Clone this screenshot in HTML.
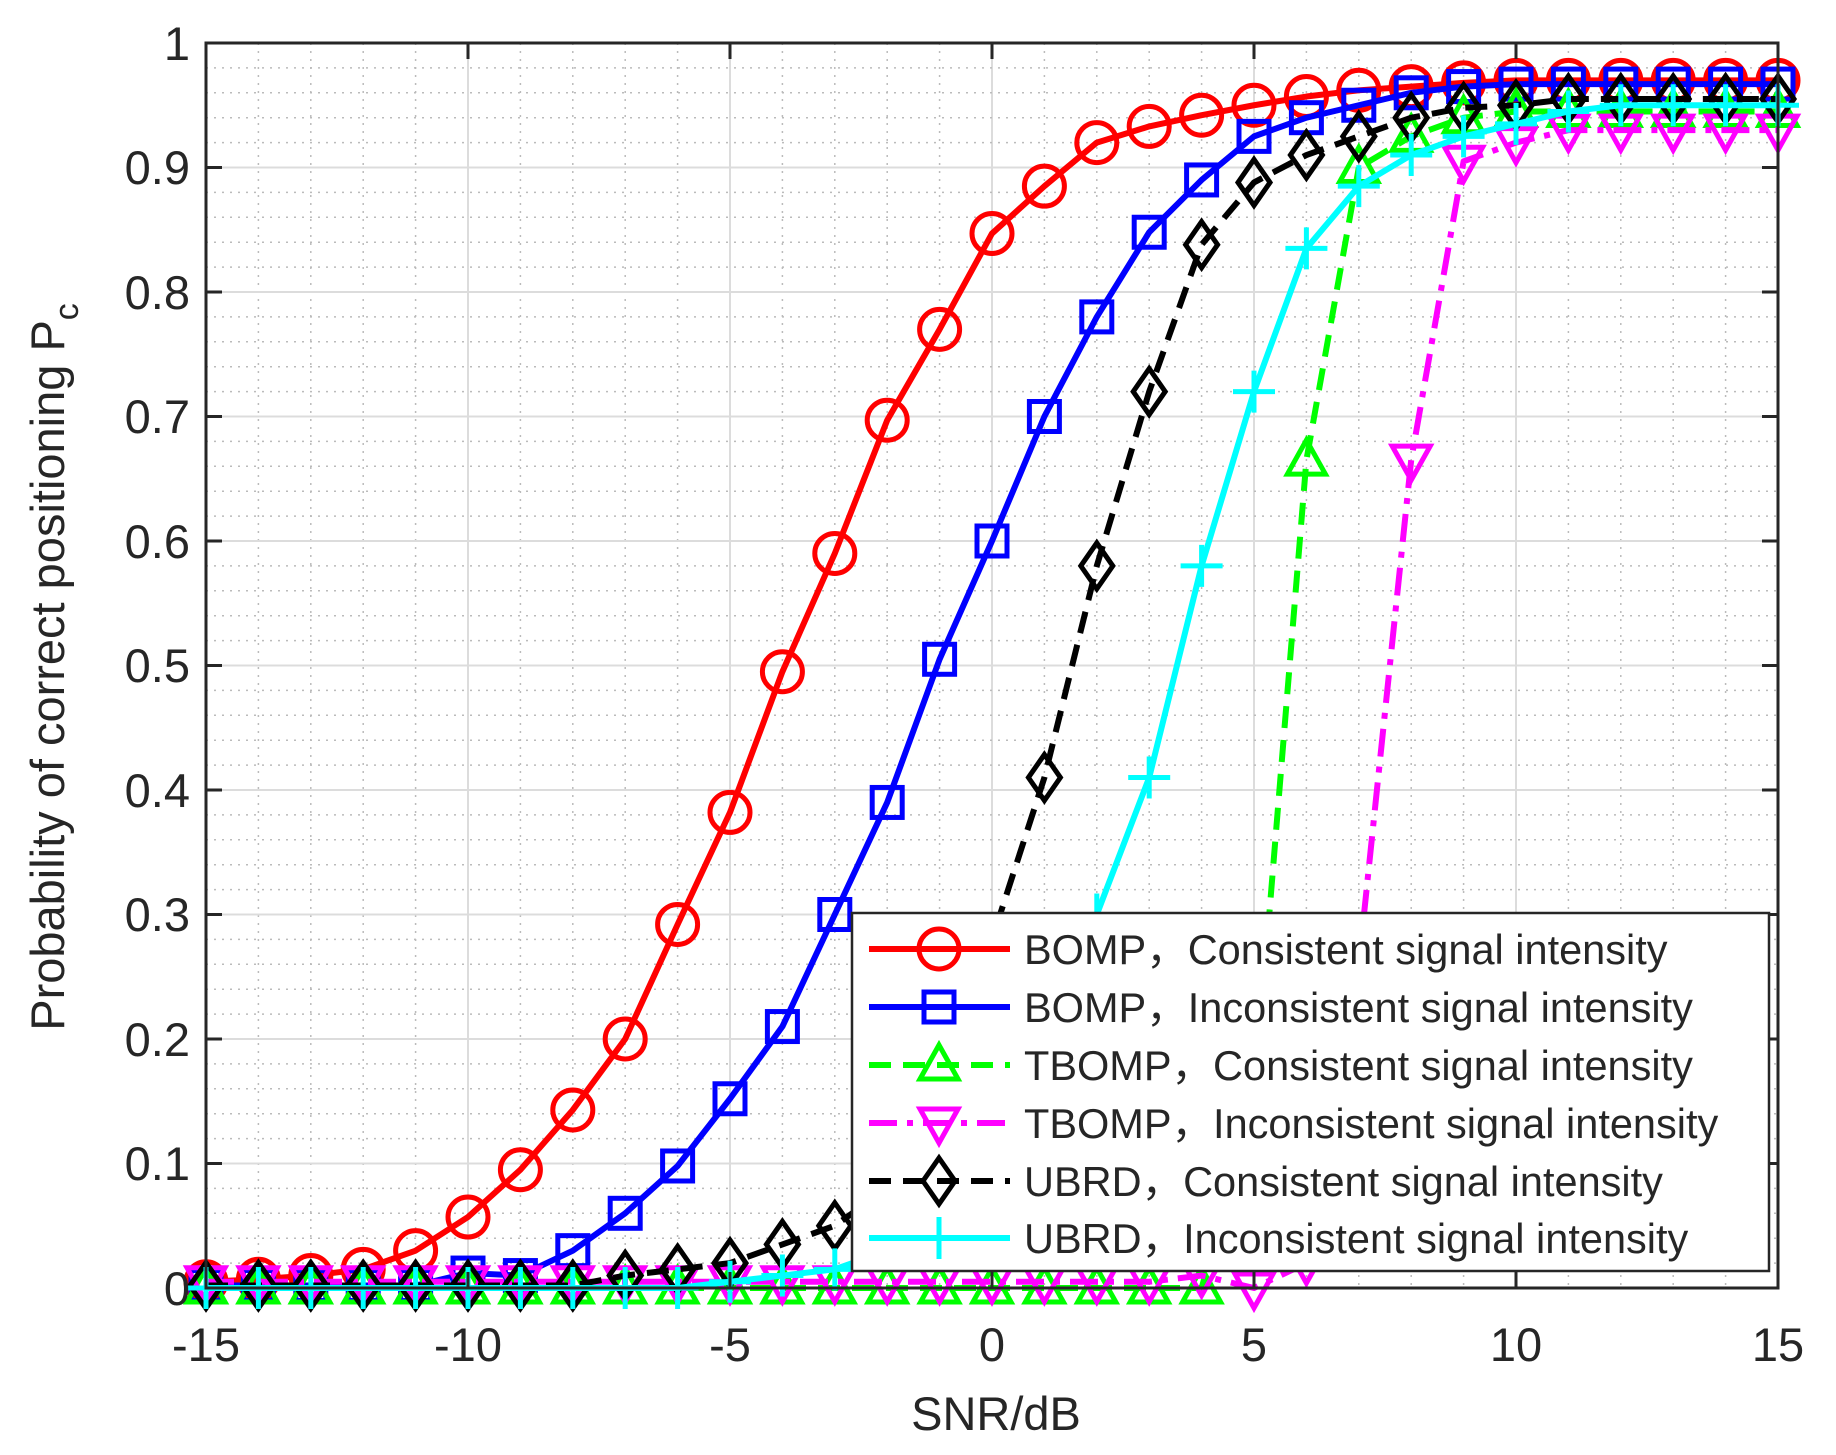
<!DOCTYPE html>
<html><head><meta charset="utf-8"><style>
html,body{margin:0;padding:0;background:#fff}
svg{display:block}
text{font-family:"Liberation Sans",Arial,sans-serif;fill:#262626}
</style></head><body>
<svg id="s" width="1836" height="1455" viewBox="0 0 1836 1455" xmlns="http://www.w3.org/2000/svg">
<rect width="1836" height="1455" fill="#fff"/>
<g id="grid"></g>
<g id="data"></g>
<rect x="206" y="43" width="1572" height="1245" fill="none" stroke="#262626" stroke-width="3"/>
<g id="ticks"></g>
<g font-size="47" text-anchor="end" id="yl">
<text x="190" y="60">1</text>
<text x="190" y="184">0.9</text>
<text x="190" y="309">0.8</text>
<text x="190" y="433">0.7</text>
<text x="190" y="558">0.6</text>
<text x="190" y="682">0.5</text>
<text x="190" y="807">0.4</text>
<text x="190" y="931">0.3</text>
<text x="190" y="1056">0.2</text>
<text x="190" y="1180">0.1</text>
<text x="190" y="1305">0</text>
</g>
<g font-size="47" text-anchor="middle">
<text x="206" y="1361">-15</text>
<text x="468" y="1361">-10</text>
<text x="730" y="1361">-5</text>
<text x="992" y="1361">0</text>
<text x="1254" y="1361">5</text>
<text x="1516" y="1361">10</text>
<text x="1778" y="1361">15</text>
<text x="996" y="1430">SNR/dB</text>
</g>
<text font-size="47" text-anchor="middle" transform="translate(64,667) rotate(-90)">Probability of correct positioning P<tspan font-size="34" dy="14">c</tspan></text>
<rect x="852" y="913" width="917" height="358" fill="#fff" stroke="#262626" stroke-width="2.5"/>
<g id="leg"></g>
<g font-size="41.5">
<text x="1024" y="964">BOMP，Consistent signal intensity</text>
<text x="1024" y="1022">BOMP，Inconsistent signal intensity</text>
<text x="1024" y="1080">TBOMP，Consistent signal intensity</text>
<text x="1024" y="1138">TBOMP，Inconsistent signal intensity</text>
<text x="1024" y="1196">UBRD，Consistent signal intensity</text>
<text x="1024" y="1253">UBRD，Inconsistent signal intensity</text>
</g>
</svg>
<script>
const NS="http://www.w3.org/2000/svg";
const X0=206,X1=1778,Y0=1288,YT=43;
const X=x=>X0+(x+15)*(X1-X0)/30, Y=v=>Y0-v*(Y0-YT);
function el(p,t,a){const e=document.createElementNS(NS,t);for(const k in a)e.setAttribute(k,a[k]);p.appendChild(e);return e;}
const G=document.getElementById('grid'),T=document.getElementById('ticks'),D=document.getElementById('data'),L=document.getElementById('leg');
for(let x=-15;x<=15;x++){const major=x%5==0;el(G,'line',{x1:X(x),x2:X(x),y1:YT,y2:Y0,stroke:major?'#dcdcdc':'#bbb','stroke-width':major?2:1.5,'stroke-dasharray':major?'':'2 6'});
if(major){el(T,'line',{x1:X(x),x2:X(x),y1:Y0,y2:Y0-16,stroke:'#262626','stroke-width':3});el(T,'line',{x1:X(x),x2:X(x),y1:YT,y2:YT+16,stroke:'#262626','stroke-width':3});}}
for(let i=0;i<=50;i++){const v=i*0.02,major=i%5==0;el(G,'line',{x1:X0,x2:X1,y1:Y(v),y2:Y(v),stroke:major?'#dcdcdc':'#bbb','stroke-width':major?2:1.5,'stroke-dasharray':major?'':'2 6'});
if(major){el(T,'line',{x1:X0,x2:X0+16,y1:Y(v),y2:Y(v),stroke:'#262626','stroke-width':3});el(T,'line',{x1:X1-16,x2:X1,y1:Y(v),y2:Y(v),stroke:'#262626','stroke-width':3});}}
const xs=[];for(let x=-15;x<=15;x++)xs.push(x);
const S=[
{c:'#ff0000',d:'',m:'o',v:[.005,.007,.01,.015,.03,.057,.095,.143,.2,.292,.382,.495,.59,.697,.77,.847,.885,.92,.933,.942,.95,.957,.962,.965,.968,.97,.97,.97,.97,.97,.97]},
{c:'#0000ff',d:'',m:'s',v:[.002,.002,.002,.002,.002,.012,.01,.03,.06,.098,.152,.21,.3,.39,.505,.6,.7,.78,.848,.89,.925,.94,.95,.96,.965,.967,.967,.967,.967,.967,.967]},
{c:'#00ff00',d:'22 12',m:'^',v:[0,0,0,0,0,0,0,0,0,0,0,0,0,0,0,0,0,0,0,0,.15,.665,.9,.925,.94,.945,.945,.945,.945,.945,.945]},
{c:'#ff00ff',d:'28 10 6 10',m:'v',v:[.005,.005,.005,.005,.005,.005,.005,.005,.005,.005,.005,.005,.005,.005,.005,.005,.005,.005,.005,.01,0,.02,.26,.665,.905,.92,.93,.93,.93,.93,.93]},
{c:'#000000',d:'22 12',m:'d',v:[.002,.002,.002,.002,.002,.002,.002,.002,.01,.015,.02,.035,.05,.08,.15,.28,.41,.58,.72,.838,.888,.91,.925,.94,.948,.95,.955,.955,.955,.955,.955]},
{c:'#00ffff',d:'',m:'+',v:[0,0,0,0,0,0,0,0,0,0,.005,.01,.015,.03,.06,.12,.2,.3,.41,.58,.72,.835,.885,.91,.925,.935,.945,.95,.95,.95,.95]}];
function mk(p,m,x,y,c){const a={fill:'none',stroke:c,'stroke-width':5};
if(m=='o')el(p,'circle',Object.assign({cx:x,cy:y,r:20},a));
else if(m=='s')el(p,'rect',Object.assign({x:x-15,y:y-15,width:30,height:30},a));
else if(m=='^')el(p,'polygon',Object.assign({points:`${x},${y-20} ${x-19},${y+14} ${x+19},${y+14}`},a));
else if(m=='v')el(p,'polygon',Object.assign({points:`${x},${y+20} ${x-19},${y-14} ${x+19},${y-14}`},a));
else if(m=='d')el(p,'polygon',Object.assign({points:`${x},${y-23} ${x+16},${y} ${x},${y+23} ${x-16},${y}`},a));
else el(p,'path',Object.assign({d:`M${x-21},${y}H${x+21}M${x},${y-21}V${y+21}`},a));}
S.forEach(s=>{el(D,'polyline',{points:xs.map((x,i)=>X(x)+','+Y(s.v[i])).join(' '),fill:'none',stroke:s.c,'stroke-width':6,'stroke-dasharray':s.d,'stroke-linejoin':'round'});
xs.forEach((x,i)=>mk(D,s.m,X(x),Y(s.v[i]),s.c));});
const ly=[949,1007,1065,1123,1181,1238];
S.forEach((s,i)=>{el(L,'line',{x1:869,x2:1010,y1:ly[i],y2:ly[i],stroke:s.c,'stroke-width':6,'stroke-dasharray':s.d});mk(L,s.m,939,ly[i],s.c);});
</script>
</body></html>
